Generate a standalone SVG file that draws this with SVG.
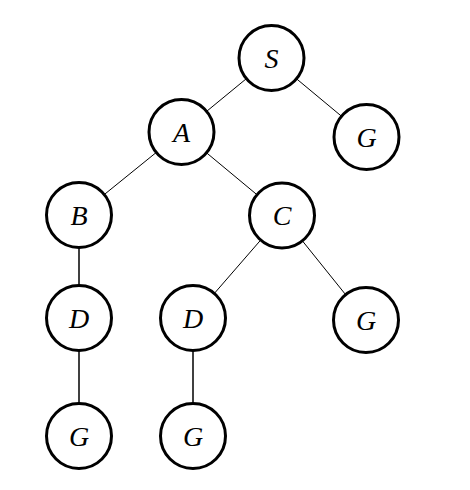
<svg xmlns="http://www.w3.org/2000/svg" width="470" height="490" viewBox="0 0 470 490">
<style>
.n circle{fill:#fff;stroke:#000;stroke-width:3}
.n text{font-family:"Liberation Serif","Times New Roman",serif;font-style:italic;font-size:28px;fill:#000;text-anchor:middle;dominant-baseline:central}
.e line{stroke:#000;stroke-width:1}
.e line.v{stroke-width:1.5}
</style>
<rect width="470" height="490" fill="#fff"/>
<g id="connectors" class="e">
<line x1="271.5" y1="58" x2="181.5" y2="132"/>
<line x1="271.5" y1="58" x2="366.5" y2="137"/>
<line x1="181.5" y1="132" x2="79" y2="215"/>
<line x1="181.5" y1="132" x2="282" y2="215.5"/>
<line class="v" x1="79" y1="215" x2="79" y2="318"/>
<line x1="282" y1="215.5" x2="193" y2="318"/>
<line x1="282" y1="215.5" x2="366" y2="320"/>
<line class="v" x1="79" y1="318" x2="79" y2="436"/>
<line class="v" x1="193" y1="318" x2="193" y2="436"/>
</g>
<g id="S" class="n"><circle cx="271.5" cy="58" r="32.5"/><text x="271.5" y="58">S</text></g>
<g id="A" class="n"><circle cx="181.5" cy="132" r="32.5"/><text x="181.5" y="132">A</text></g>
<g id="G1" class="n"><circle cx="366.5" cy="137" r="32.5"/><text x="366.5" y="137">G</text></g>
<g id="B" class="n"><circle cx="79" cy="215" r="32.5"/><text x="79" y="215">B</text></g>
<g id="C" class="n"><circle cx="282" cy="215.5" r="32.5"/><text x="282" y="215.5">C</text></g>
<g id="D1" class="n"><circle cx="79" cy="318" r="32.5"/><text x="79" y="318">D</text></g>
<g id="D2" class="n"><circle cx="193" cy="318" r="32.5"/><text x="193" y="318">D</text></g>
<g id="G2" class="n"><circle cx="366" cy="320" r="32.5"/><text x="366" y="320">G</text></g>
<g id="G3" class="n"><circle cx="79" cy="436" r="32.5"/><text x="79" y="436">G</text></g>
<g id="G4" class="n"><circle cx="193" cy="436" r="32.5"/><text x="193" y="436">G</text></g>
</svg>
